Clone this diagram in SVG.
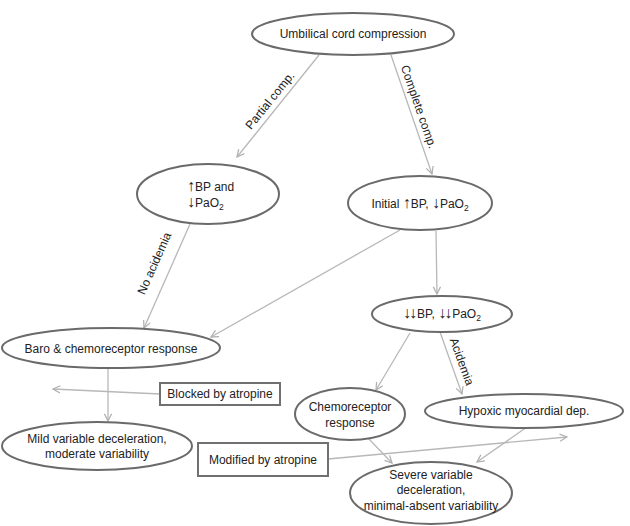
<svg xmlns="http://www.w3.org/2000/svg" width="630" height="526" viewBox="0 0 630 526">
<style>
.n{fill:#fff;stroke:#6a6a6a;stroke-width:2}
.b{fill:#fff;stroke:#707070;stroke-width:2}
.t{font-family:"Liberation Sans",Arial,sans-serif;font-size:12px;fill:#222}
.c{fill:none;stroke:#b8b8b8;stroke-width:1.3;marker-end:url(#a)}
.m{text-anchor:middle}
.s{font-size:8.5px}
.r{font-size:16px}
</style>
<defs>
<marker id="a" viewBox="0 0 10 10" refX="9" refY="5" markerWidth="9" markerHeight="9" orient="auto" markerUnits="userSpaceOnUse">
<path d="M1,1 L9,5 L1,9" fill="none" stroke="#b0b0b0" stroke-width="1.4"/>
</marker>
</defs>
<rect width="630" height="526" fill="#fff"/>
<g id="connectors">
<line class="c" x1="319" y1="55" x2="237" y2="157"/>
<line class="c" x1="391" y1="55" x2="432" y2="174"/>
<line class="c" x1="190" y1="224" x2="144" y2="328"/>
<line class="c" x1="400" y1="230" x2="211" y2="337"/>
<line class="c" x1="436" y1="231" x2="437" y2="294"/>
<line class="c" x1="410" y1="333" x2="376" y2="390"/>
<line class="c" x1="440" y1="332" x2="462" y2="394"/>
<line class="c" x1="108" y1="369" x2="108" y2="421"/>
<line class="c" x1="160" y1="394" x2="53" y2="389"/>
<line class="c" x1="368" y1="438" x2="392" y2="463"/>
<line class="c" x1="527" y1="427" x2="477" y2="462"/>
<line class="c" x1="328" y1="459" x2="567" y2="437"/>
<text class="t" transform="translate(273,103) rotate(-51)" text-anchor="middle">Partial comp.</text>
<text class="t" transform="translate(415,108) rotate(71)" text-anchor="middle">Complete comp.</text>
<text class="t" transform="translate(158,265) rotate(-66)" text-anchor="middle">No acidemia</text>
<text class="t" transform="translate(458,363) rotate(70)" text-anchor="middle">Acidemia</text>
</g>
<g id="n1">
<ellipse class="n" cx="353" cy="34" rx="101" ry="21"/>
<text class="t m" x="353" y="38">Umbilical cord compression</text>
</g>
<g id="n2">
<ellipse class="n" cx="208" cy="194" rx="71" ry="30"/>
<text class="t" x="187" y="191"><tspan class="r">↑</tspan>BP and</text>
<text class="t" x="187" y="207"><tspan class="r">↓</tspan>PaO<tspan class="s" dy="3">2</tspan></text>
</g>
<g id="n3">
<ellipse class="n" cx="420" cy="203" rx="72" ry="27"/>
<text class="t m" x="420" y="208">Initial <tspan class="r">↑</tspan>BP, <tspan class="r">↓</tspan>PaO<tspan class="s" dy="3">2</tspan></text>
</g>
<g id="n4">
<ellipse class="n" cx="442" cy="314" rx="70" ry="18"/>
<text class="t m" x="442" y="318"><tspan class="r" letter-spacing="-2">↓↓</tspan><tspan dx="2">BP, </tspan><tspan class="r" letter-spacing="-2">↓↓</tspan><tspan dx="2">PaO</tspan><tspan class="s" dy="3">2</tspan></text>
</g>
<g id="n5">
<ellipse class="n" cx="111" cy="348" rx="109" ry="20"/>
<text class="t m" x="111" y="353">Baro &amp; chemoreceptor response</text>
</g>
<g id="n6">
<ellipse class="n" cx="350" cy="414" rx="55" ry="26"/>
<text class="t m" x="350" y="411">Chemoreceptor</text>
<text class="t m" x="350" y="427">response</text>
</g>
<g id="n7">
<ellipse class="n" cx="524" cy="411" rx="99" ry="17"/>
<text class="t m" x="524" y="415">Hypoxic myocardial dep.</text>
</g>
<g id="n8">
<ellipse class="n" cx="97" cy="446" rx="95" ry="24"/>
<text class="t m" x="97" y="443">Mild variable deceleration,</text>
<text class="t m" x="97" y="458">moderate variability</text>
</g>
<g id="n9">
<ellipse class="n" cx="431" cy="493" rx="81" ry="31"/>
<text class="t m" x="431" y="479">Severe variable</text>
<text class="t m" x="431" y="494">deceleration,</text>
<text class="t m" x="431" y="510">minimal-absent variability</text>
</g>
<g id="n10">
<rect class="b" x="160" y="383" width="120" height="22"/>
<text class="t m" x="220" y="398">Blocked by atropine</text>
</g>
<g id="n11">
<rect class="b" x="198" y="443" width="130" height="33"/>
<text class="t m" x="263" y="464">Modified by atropine</text>
</g>
</svg>
